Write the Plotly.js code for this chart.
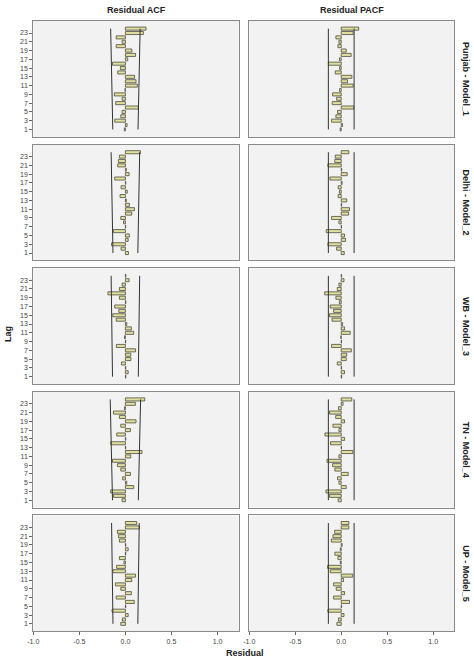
<!DOCTYPE html>
<html>
<head>
<meta charset="utf-8">
<script src="https://cdn.plot.ly/plotly-3.0.1.min.js"></script>
<style>
	html, body { margin: 0; padding: 0; background: #ffffff; }
	#plot { width: 474px; height: 669px; }
</style>
</head>
<body>
<div id="plot"></div>
<script>
const lags = [1, 2, 3, 4, 5, 6, 7, 8, 9, 10, 11, 12, 13, 14, 15, 16, 17, 18, 19, 20, 21, 22, 23, 24];
const lagTicks = [1, 3, 5, 7, 9, 11, 13, 15, 17, 19, 21, 23];
const residualTicks = [-1.0, -0.5, 0.0, 0.5, 1.0];
const residualTickText = ['-1.0', '-0.5', '0.0', '0.5', '1.0'];

const models = ['Punjab - Model_1', 'Delhi - Model_2', 'WB - Model_3', 'TN - Model_4', 'UP - Model_5'];
const columns = ['Residual ACF', 'Residual PACF'];

// values by lag 1..24
const acfPunjab = [-0.012, 0.018, -0.115, -0.05, -0.036, 0.14, -0.105, -0.036, -0.12, -0.005, 0.13, 0.115, 0.10, -0.083, -0.054, -0.14, 0.025, 0.11, 0.07, -0.10, -0.036, -0.10, 0.195, 0.224];
const pacfPunjab = [-0.012, 0.014, -0.105, -0.058, -0.04, 0.137, -0.098, -0.05, -0.094, -0.018, 0.13, 0.069, 0.116, -0.065, -0.018, -0.14, -0.018, 0.108, 0.054, -0.036, -0.025, -0.058, 0.13, 0.19];
const acfDelhi = [0.033, -0.047, -0.15, 0.03, 0.043, -0.13, 0.003, -0.02, -0.05, 0.069, 0.098, 0.043, 0.01, -0.058, 0.02, -0.047, 0.004, -0.116, 0.04, 0.01, -0.083, -0.076, -0.065, 0.163];
const pacfDelhi = [0.033, -0.05, -0.145, 0.047, 0.036, -0.163, 0.003, -0.025, -0.105, 0.08, 0.09, 0.004, 0.06, -0.033, -0.02, -0.033, 0.01, -0.123, 0.065, 0.005, -0.145, -0.07, -0.065, 0.083];
const acfWB = [0.005, 0.03, 0.004, -0.043, 0.06, 0.058, 0.11, -0.098, 0.003, -0.01, 0.09, 0.065, 0.015, -0.10, -0.137, -0.072, -0.116, 0.005, -0.065, -0.19, -0.065, -0.036, 0.04, 0.005];
const pacfWB = [0.005, 0.036, 0.004, -0.043, 0.054, 0.06, 0.11, -0.105, 0.003, -0.005, 0.098, 0.036, 0.015, -0.10, -0.127, -0.083, -0.12, -0.02, -0.058, -0.18, -0.043, -0.025, 0.03, 0.004];
const acfTN = [-0.036, -0.13, -0.16, 0.09, 0.015, -0.03, 0.054, -0.05, -0.087, -0.14, 0.058, 0.18, 0.003, -0.16, 0.004, -0.094, 0.054, -0.05, 0.115, -0.065, -0.13, -0.01, 0.108, 0.21];
const pacfTN = [-0.033, -0.127, -0.166, 0.054, -0.025, -0.04, 0.076, -0.069, -0.094, -0.155, -0.025, 0.127, 0.003, -0.116, 0.036, -0.177, -0.025, -0.09, 0.036, -0.06, -0.127, -0.03, 0.02, 0.115];
const acfUP = [-0.05, -0.033, 0.03, -0.145, 0.004, 0.096, -0.10, 0.065, -0.05, -0.108, 0.069, 0.11, -0.135, -0.096, -0.015, -0.065, 0.004, 0.03, 0.004, -0.065, -0.076, -0.087, 0.152, 0.123];
const pacfUP = [-0.047, -0.03, 0.03, -0.145, 0.004, 0.09, -0.083, 0.036, -0.054, -0.083, 0.025, 0.125, -0.12, -0.148, -0.01, -0.036, -0.069, -0.01, 0.01, -0.108, -0.09, -0.072, 0.083, 0.083];

// confidence limits: ACF at lag 1 and lag 24, PACF constant
const acfLimitLag1 = [0.137, 0.135, 0.14, 0.14, 0.135];
const acfLimitLag24 = [0.16, 0.155, 0.155, 0.165, 0.15];
const pacfLimit = [0.14, 0.14, 0.14, 0.14, 0.14];

document.addEventListener('DOMContentLoaded', function () {
	const plotDiv = document.getElementById('plot');
	const W = 474, H = 669;
	const acfSeries = [acfPunjab, acfDelhi, acfWB, acfTN, acfUP];
	const pacfSeries = [pacfPunjab, pacfDelhi, pacfWB, pacfTN, pacfUP];
	const colLeft = [33.3, 249.3], colRight = [238.7, 454.3];
	const rowTop = 21, rowStep = 123.6, rowHeight = 115.8;
	const tickFont = {family: 'Liberation Sans, Arial, sans-serif', size: 7, color: '#444444'};
	const labelFont = {family: 'Liberation Sans, Arial, sans-serif', size: 9, color: '#222222'};

	let traces = [];
	let layout = {
		width: W,
		height: H,
		margin: {l: 0, r: 0, t: 0, b: 0},
		paper_bgcolor: '#ffffff',
		plot_bgcolor: '#f2f2f2',
		showlegend: false,
		annotations: []
	};

	// centred text label in paper coordinates
	function label(text, px, py, angle) {
		return {
			text: '<b>' + text + '</b>',
			xref: 'paper', yref: 'paper',
			x: px / W, y: 1 - py / H,
			xanchor: 'center', yanchor: 'middle',
			textangle: angle || 0,
			showarrow: false,
			font: labelFont
		};
	}

	for (let r = 0; r < models.length; r++) {
		const top = rowTop + r * rowStep;
		const yDomain = [1 - (top + rowHeight) / H, 1 - top / H];
		for (let c = 0; c < 2; c++) {
			const n = r * 2 + c + 1;
			const xa = n === 1 ? 'x' : 'x' + n;
			const ya = n === 1 ? 'y' : 'y' + n;
			const values = c === 0 ? acfSeries[r] : pacfSeries[r];
			const lo = c === 0 ? acfLimitLag1[r] : pacfLimit[r];
			const hi = c === 0 ? acfLimitLag24[r] : pacfLimit[r];
			const bottomRow = r === models.length - 1;

			traces.push({
				type: 'bar',
				orientation: 'h',
				x: values,
				y: lags,
				width: 0.7,
				xaxis: xa,
				yaxis: ya,
				marker: {color: '#e0df9e', line: {color: '#4d4d40', width: 0.8}},
				hoverinfo: 'x+y'
			});
			// confidence limits
			[-1, 1].forEach(function (sign) {
				traces.push({
					type: 'scatter',
					mode: 'lines',
					x: [sign * lo, sign * hi],
					y: [lags[0], lags[lags.length - 1]],
					xaxis: xa,
					yaxis: ya,
					line: {color: '#333333', width: 1},
					hoverinfo: 'skip'
				});
			});

			layout['xaxis' + (n === 1 ? '' : n)] = {
				domain: [colLeft[c] / W, colRight[c] / W],
				anchor: ya,
				range: [-1.0, 1.23],
				tickvals: residualTicks,
				ticktext: residualTickText,
				showticklabels: bottomRow,
				ticks: bottomRow ? 'outside' : '',
				ticklen: 3,
				tickcolor: '#666666',
				tickfont: tickFont,
				showgrid: false,
				zeroline: false,
				showline: true,
				mirror: true,
				linecolor: '#8a8a8a',
				linewidth: 1,
				fixedrange: true
			};
			layout['yaxis' + (n === 1 ? '' : n)] = {
				domain: yDomain,
				anchor: xa,
				range: [-0.68, 25.74],
				tickvals: lagTicks,
				showticklabels: c === 0,
				ticks: c === 0 ? 'outside' : '',
				ticklen: 3,
				tickcolor: '#666666',
				tickfont: tickFont,
				showgrid: false,
				zeroline: false,
				showline: true,
				mirror: true,
				linecolor: '#8a8a8a',
				linewidth: 1,
				fixedrange: true
			};
		}
		// row label on the right
		layout.annotations.push(label(models[r], 466, top + rowHeight / 2, 90));
	}

	// column titles and axis titles
	for (let c = 0; c < 2; c++) {
		layout.annotations.push(label(columns[c], (colLeft[c] + colRight[c]) / 2, 10, 0));
	}
	layout.annotations.push(label('Lag', 8, 334, -90));
	layout.annotations.push(label('Residual', 245, 653, 0));

	Plotly.newPlot(plotDiv, traces, layout, {displayModeBar: false, staticPlot: true});
});
</script>
</body>
</html>
